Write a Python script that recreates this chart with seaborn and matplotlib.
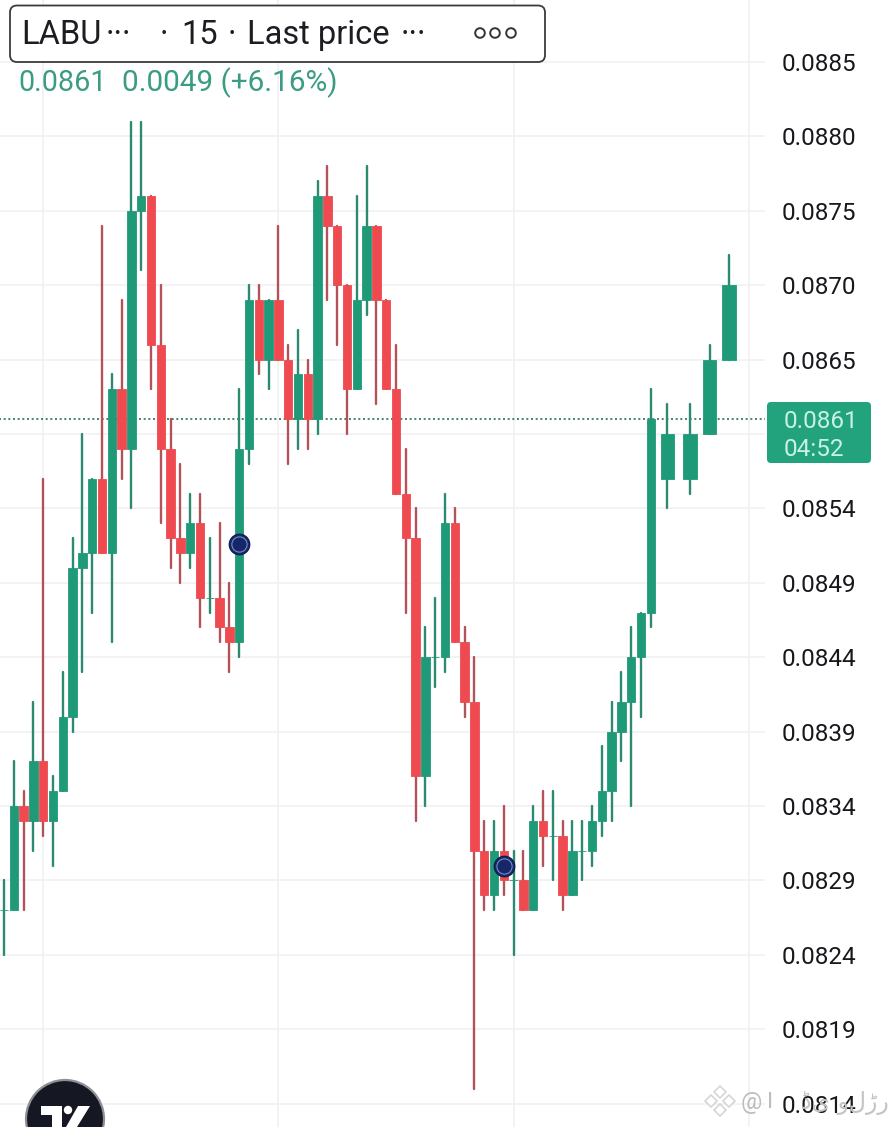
import matplotlib
matplotlib.use("Agg")
import matplotlib.pyplot as plt
from matplotlib.patches import Circle, FancyBboxPatch, Polygon
import numpy as np
import pandas as pd
import seaborn as sns

# --- DATA ---
BAR_INDEX = list(range(67)) + [67.7, 70, 72, 74]

OPEN = [
    .0828, .0828, .0835, .0834, .0838, .0834, .0836, .0841, .0851, .0852,
    .0857, .0852, .0863, .0859, .0875, .0876, .0866, .0859, .0853, .0852,
    .0854, .0849, .0849, .0847, .0846, .0859, .0869, .0865, .0869, .0865,
    .0861, .0864, .0861, .0876, .0874, .0870, .0863, .0869, .0874, .0869,
    .0863, .0856, .0853, .0837, .0845, .0845, .0854, .0846, .0842, .0832,
    .0829, .0832, .0830, .0830, .0828, .0834, .0833, .0833, .0829, .0832,
    .0832, .0834, .0836, .0840, .0842, .0845, .0848, .0857, .0857, .0860,
    .0865,
]
CLOSE = [
    .0828, .0835, .0834, .0838, .0834, .0836, .0841, .0851, .0852, .0857,
    .0852, .0863, .0859, .0875, .0876, .0866, .0859, .0853, .0852, .0854,
    .0849, .0849, .0847, .0846, .0859, .0869, .0865, .0869, .0865, .0861,
    .0864, .0861, .0876, .0874, .0870, .0863, .0869, .0874, .0869, .0863,
    .0856, .0853, .0837, .0845, .0845, .0854, .0846, .0842, .0832, .0829,
    .0832, .0830, .0830, .0828, .0834, .0833, .0833, .0829, .0832, .0832,
    .0834, .0836, .0840, .0842, .0845, .0848, .0861, .0860, .0860, .0865,
    .0870,
]
HIGH = [
    .0830, .0838, .0836, .0842, .0857, .0837, .0844, .0853, .0860, .0857,
    .0874, .0864, .0869, .0881, .0881, .0876, .0870, .0861, .0858, .0856,
    .0856, .0853, .0854, .0850, .0863, .0870, .0870, .0869, .0874, .0866,
    .0867, .0865, .0877, .0878, .0874, .0870, .0876, .0878, .0874, .0869,
    .0866, .0859, .0855, .0847, .0849, .0856, .0855, .0847, .0845, .0834,
    .0834, .0835, .0832, .0832, .0835, .0836, .0836, .0834, .0834, .0834,
    .0835, .0839, .0842, .0844, .0847, .0848, .0863, .0862, .0862, .0866,
    .0872,
]
LOW = [
    .0825, .0828, .0828, .0832, .0833, .0831, .0836, .0840, .0844, .0848,
    .0852, .0846, .0857, .0855, .0871, .0863, .0854, .0851, .0850, .0851,
    .0847, .0848, .0846, .0844, .0845, .0858, .0864, .0863, .0865, .0858,
    .0859, .0859, .0860, .0869, .0866, .0860, .0863, .0868, .0862, .0863,
    .0856, .0848, .0834, .0835, .0843, .0844, .0846, .0841, .0816, .0828,
    .0828, .0829, .0825, .0828, .0828, .0831, .0830, .0828, .0829, .0830,
    .0831, .0833, .0834, .0838, .0835, .0841, .0847, .0855, .0856, .0860,
    .0865,
]

# dojis count as green
TICK_PRICES = [.0885, .0880, .0875, .0870, .0865, .0860, .0855, .0850,
               .0845, .0840, .0835, .0830, .0825, .0820, .0815]
TICK_LABELS = ["0.0885", "0.0880", "0.0875", "0.0870", "0.0865", "", "0.0854",
               "0.0849", "0.0844", "0.0839", "0.0834", "0.0829", "0.0824",
               "0.0819", "0.0814"]
V_GRID_BARS = [4, 28, 52, 76]

LAST_PRICE = 0.0861
MARKER_BARS = [24, 51]
MARKER_PRICES = [0.08526, 0.0831]

# --- STYLE ---
GREEN = "#1f9a78"
RED = "#ee4a50"
GREEN_WICK = "#2b8a70"
RED_WICK = "#b4525a"
GRID = "#f1f1f3"
W, H = 896, 1127
PLOT_RIGHT = 765
PX_PER_BAR = 9.8
PX_PER_PRICE = 148800


def build_frames():
    df = pd.DataFrame({"bar": BAR_INDEX, "open": OPEN, "close": CLOSE,
                       "high": HIGH, "low": LOW})
    df["side"] = np.where(df["close"] >= df["open"], "up", "down")
    wicks = df.melt(id_vars=["bar", "side"], value_vars=["low", "high"],
                    value_name="price")
    return df, wicks


def draw_overlay(fig):
    # header box, price tag, logo and watermark live in pixel coordinates
    ov = fig.add_axes([0, 0, 1, 1], zorder=5)
    ov.set_xlim(0, W)
    ov.set_ylim(H, 0)
    ov.axis("off")

    ov.add_patch(FancyBboxPatch((10, 5.5), 535, 56.5, boxstyle="round,pad=0,rounding_size=7",
                                fc="white", ec="#3a3b40", lw=1.3))
    dark = "#1c1d22"
    for x, s in [(21, "LABU"), (106, "···"), (160, "·"), (181, "15"), (228, "·"),
                 (247, "Last price"), (401, "···")]:
        ov.text(x, 44, s, fontsize=23.5, color=dark, va="baseline", ha="left")
    for x in [480, 495, 511]:
        ov.add_patch(Circle((x, 33), 4.8, fc="white", ec="#33343a", lw=1.4))

    ov.text(18, 91, "0.0861", fontsize=20.7, color="#3b9c83", va="baseline")
    ov.text(122, 91, "0.0049 (+6.16%)", fontsize=21.4, color="#3b9c83", va="baseline")

    # last price tag
    ov.add_patch(FancyBboxPatch((767, 402), 104, 61, boxstyle="round,pad=0,rounding_size=4",
                                fc="#22a37d", ec="none"))
    ov.text(784, 419, "0.0861", fontsize=17.5, color="#c9f2e4", va="center_baseline")
    ov.text(784, 447, "04:52", fontsize=17.5, color="#c9f2e4", va="center_baseline")

    # watermark
    for dx, dy in [(0, -9), (-9, 0), (9, 0), (0, 9)]:
        ov.add_patch(Polygon([(720 + dx, 1095 + dy), (726 + dx, 1101 + dy),
                              (720 + dx, 1107 + dy), (714 + dx, 1101 + dy)],
                             closed=True, fc="white", ec="#d4d4d4", lw=1.1, zorder=1))
    ov.text(751, 1102, "@", fontsize=17, color="#bdbdbd", ha="center", va="center", zorder=1)
    ov.text(770, 1102, "I", fontsize=16, color="#bdbdbd", ha="center", va="center", zorder=1)
    ov.text(889, 1103, "ڈی ولڑر", fontsize=17, color="#c4c4c4", ha="right", va="center",
            family=["DejaVu Sans"], zorder=1)

    # logo, cut by the bottom of the picture
    ov.add_patch(Circle((65, 1119), 39, fc="#151823", ec="#8f9094", lw=1.6))
    ov.add_patch(Polygon([(41, 1106), (62, 1106), (62, 1127), (52, 1127), (52, 1115), (41, 1115)],
                         closed=True, fc="white", ec="none"))
    ov.add_patch(Circle((68, 1110), 4.2, fc="white", ec="none"))
    ov.add_patch(Polygon([(78, 1106), (90, 1106), (77, 1127), (66, 1127)],
                         closed=True, fc="white", ec="none"))


def main():
    df, wicks = build_frames()

    sns.set_theme(style="white")
    plt.rcParams["font.family"] = ["Roboto", "DejaVu Sans"]

    fig = plt.figure(figsize=(W / 100, H / 100), dpi=100, facecolor="white")
    ax = fig.add_axes([0, 0, PLOT_RIGHT / W, 1])

    # grid
    ax.set_yticks(TICK_PRICES)
    ax.set_yticklabels(TICK_LABELS)
    ax.set_xticks(V_GRID_BARS)
    ax.set_xticklabels([])
    ax.grid(True, color=GRID, lw=1.2, zorder=0)
    ax.set_axisbelow(True)

    # wicks
    sns.lineplot(data=wicks, x="bar", y="price", hue="side", units="bar", estimator=None,
                 palette={"up": GREEN_WICK, "down": RED_WICK}, lw=1.7, legend=False,
                 sort=False, ax=ax, zorder=2)

    # bodies
    width = np.where(df["bar"] > 66, 1.38, 0.87)
    colors = df["side"].map({"up": GREEN, "down": RED})
    bottoms = df[["open", "close"]].min(axis=1)
    heights = (df["close"] - df["open"]).abs()
    ax.bar(df["bar"], heights, width=width, bottom=bottoms, color=colors,
           edgecolor=colors, linewidth=0.6, zorder=3)

    # last price line
    sns.lineplot(x=[-1, 78], y=[LAST_PRICE, LAST_PRICE], color="#2a6f5c", lw=1.2,
                 linestyle=(0, (1.2, 1.6)), ax=ax, zorder=1.5)

    # session markers
    sns.scatterplot(x=MARKER_BARS, y=MARKER_PRICES, s=215, color="#1a2c6e", edgecolor="#0f1c4f",
                    linewidth=1.0, ax=ax, zorder=4)
    sns.scatterplot(x=MARKER_BARS, y=MARKER_PRICES, s=120, color="#152769", edgecolor="#7d97d2",
                    linewidth=0.7, ax=ax, zorder=5)

    # pixel mapping of the screenshot
    ax.set_xlim(-4 / PX_PER_BAR, (PLOT_RIGHT - 4) / PX_PER_BAR)
    ax.set_ylim(0.0885 - (H - 62) / PX_PER_PRICE, 0.0885 + 62 / PX_PER_PRICE)
    ax.set_xlabel("")
    ax.set_ylabel("")
    ax.yaxis.tick_right()
    ax.tick_params(axis="y", length=0, pad=12.2, labelsize=17.5, labelcolor="#17181c")
    ax.tick_params(axis="x", length=0)
    sns.despine(ax=ax, left=True, right=True, top=True, bottom=True)

    draw_overlay(fig)

    fig.savefig("out.png", dpi=100)
    print("saved out.png")


if __name__ == "__main__":
    main()
